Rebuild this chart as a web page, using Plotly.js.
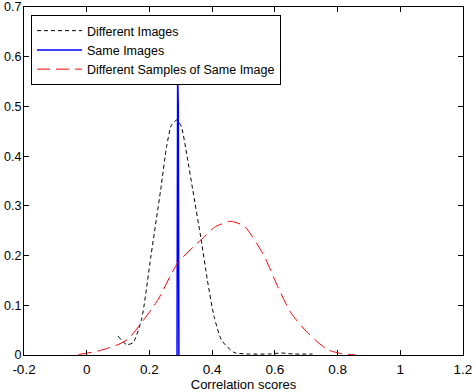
<!DOCTYPE html>
<html><head><meta charset="utf-8">
<script src="https://cdn.plot.ly/plotly-3.0.1.min.js"></script>
<style>body{margin:0;padding:0;background:#fff}#chart{width:474px;height:392px}</style>
</head><body><div id="chart"></div>
<script>
const diffX = [0.10, 0.127, 0.148, 0.175, 0.205, 0.236, 0.255, 0.27, 0.288, 0.302, 0.32, 0.338, 0.365, 0.385, 0.406, 0.43, 0.47, 0.52, 0.58, 0.62, 0.66, 0.72];
const diffY = [0.038, 0.021, 0.025, 0.072, 0.20, 0.333, 0.42, 0.462, 0.473, 0.459, 0.40, 0.333, 0.232, 0.15, 0.078, 0.03, 0.005, 0.002, 0.002, 0.004, 0.002, 0.002];
const sameX = [0.288, 0.289, 0.290, 0.292, 0.294];
const sameY = [0, 0.5, 0.565, 0.5, 0];
const sampX = [-0.026, 0.037, 0.1, 0.132, 0.175, 0.228, 0.291, 0.365, 0.41, 0.45, 0.46, 0.503, 0.566, 0.608, 0.651, 0.704, 0.767, 0.81, 0.857];
const sampY = [0.001, 0.008, 0.021, 0.032, 0.065, 0.112, 0.186, 0.232, 0.258, 0.268, 0.269, 0.259, 0.199, 0.139, 0.085, 0.045, 0.011, 0.003, 0.0];
const xTicks = [-0.2, 0, 0.2, 0.4, 0.6, 0.8, 1, 1.2];
const xTickText = ['-0.2', '0', '0.2', '0.4', '0.6', '0.8', '1', '1.2'];
const yTicks = [0, 0.1, 0.2, 0.3, 0.4, 0.5, 0.6, 0.7];
const yTickText = ['0', '0.1', '0.2', '0.3', '0.4', '0.5', '0.6', '0.7'];

const traces = [
  {x: diffX, y: diffY, mode: 'lines', name: 'Different Images', line: {color: '#000', dash: '4px,3px', width: 1, shape: 'spline', smoothing: 0.6}},
  {x: sameX, y: sameY, mode: 'lines', name: 'Same Images', line: {color: '#0000ff', width: 1.5}},
  {x: sampX, y: sampY, mode: 'lines', name: 'Different Samples of Same Image', line: {color: '#ff0000', dash: '13px,6px', width: 1, shape: 'spline', smoothing: 0.6}}
];
const axisCommon = {showgrid: false, zeroline: false, showline: true, linecolor: '#000', linewidth: 1, mirror: 'ticks', ticks: 'inside', ticklen: 5, tickcolor: '#000'};
const layout = {
  width: 474, height: 392,
  margin: {l: 24, r: 11, t: 7, b: 37},
  paper_bgcolor: '#fff', plot_bgcolor: '#fff',
  showlegend: true,
  legend: {x: 0.016, y: 0.977, xanchor: 'left', yanchor: 'top', bgcolor: '#fff', bordercolor: '#000', borderwidth: 1, font: {family: 'Liberation Sans, Arial', size: 12.5, color: '#000'}, tracegroupgap: 0, itemwidth: 45},
  xaxis: Object.assign({}, axisCommon, {range: [-0.2, 1.2], tickvals: xTicks, ticktext: xTickText, tickfont: {family: 'Liberation Sans, Arial', size: 13.5, color: '#000'}, ticklabelstandoff: 2, title: {text: 'Correlation scores', font: {family: 'Liberation Sans, Arial', size: 13, color: '#000'}, standoff: 3}}),
  yaxis: Object.assign({}, axisCommon, {range: [0, 0.7], tickvals: yTicks, ticktext: yTickText, tickfont: {family: 'Liberation Sans, Arial', size: 12.5, color: '#000'}, ticklabelstandoff: -1})
};
Plotly.newPlot('chart', traces, layout, {displayModeBar: false, staticPlot: true});
</script></body></html>
